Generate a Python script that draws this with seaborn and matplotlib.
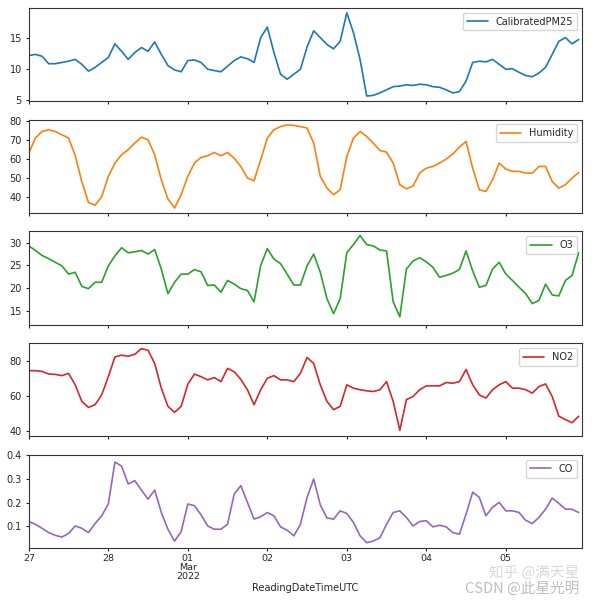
import numpy as np
import pandas as pd
import matplotlib
matplotlib.use("Agg")
import matplotlib.pyplot as plt
import matplotlib.dates as mdates
import matplotlib.ticker as mticker
import seaborn as sns

#%% data (every 2 hours) #####################################################
times = pd.date_range("2022-02-27 00:00", periods=84, freq="2h")

pm25 = [12.1, 12.3, 12.0, 10.8, 10.8, 11.0, 11.2, 11.5, 10.7, 9.6, 10.2, 11.0,
        11.8, 14.0, 12.8, 11.5, 12.6, 13.4, 12.8, 14.3, 12.3, 10.5, 9.8, 9.5,
        11.3, 11.4, 11.0, 9.9, 9.7, 9.5, 10.4, 11.3, 11.9, 11.6, 11.0, 15.0,
        16.7, 12.6, 9.1, 8.3, 9.1, 9.9, 13.5, 16.1, 15.0, 13.9, 13.2, 14.4,
        19.0, 15.8, 11.5, 5.6, 5.7, 6.1, 6.6, 7.1, 7.2, 7.4, 7.3, 7.5,
        7.4, 7.1, 7.0, 6.6, 6.1, 6.3, 8.0, 11.0, 11.2, 11.1, 11.5, 10.7,
        9.9, 10.0, 9.4, 8.9, 8.7, 9.3, 10.2, 12.3, 14.4, 15.0, 14.0, 14.7]

humidity = [63.2, 71.2, 74.7, 75.6, 74.7, 72.9, 71.2, 62.0, 48.0, 37.0, 35.5, 40.0,
            50.8, 57.9, 62.3, 65.0, 68.5, 71.7, 70.3, 62.3, 49.0, 38.8, 34.0, 41.1,
            50.8, 57.9, 60.9, 61.8, 63.5, 61.8, 63.5, 60.5, 56.1, 50.0, 48.5, 59.6,
            71.2, 75.6, 77.3, 78.2, 77.9, 77.3, 76.5, 68.5, 50.8, 44.6, 41.1, 43.7,
            61.4, 71.2, 74.7, 72.0, 68.5, 64.6, 63.7, 57.9, 46.4, 44.2, 45.8, 52.6,
            55.2, 56.1, 57.9, 60.0, 62.7, 66.4, 69.4, 55.2, 43.7, 42.8, 49.0, 57.9,
            54.7, 53.5, 53.5, 52.6, 52.6, 56.1, 56.1, 48.1, 44.6, 46.4, 49.9, 52.9]

o3 = [29.3, 28.3, 27.2, 26.5, 25.7, 24.9, 23.1, 23.5, 20.4, 19.9, 21.3, 21.3,
      24.9, 27.1, 28.9, 27.8, 28.0, 28.3, 27.5, 28.5, 24.2, 18.8, 21.3, 23.1,
      23.1, 24.1, 23.6, 20.6, 20.7, 19.1, 21.7, 20.9, 19.9, 19.5, 17.0, 25.0,
      28.7, 26.4, 25.4, 23.1, 20.7, 20.7, 24.9, 27.5, 23.5, 17.7, 14.4, 17.7,
      27.8, 29.6, 31.6, 29.6, 29.3, 28.4, 28.2, 17.0, 13.7, 24.2, 26.0, 26.7,
      25.8, 24.6, 22.4, 22.8, 23.3, 24.1, 28.2, 23.8, 20.2, 20.6, 24.2, 25.7,
      23.1, 21.7, 20.2, 18.8, 16.6, 17.3, 20.9, 18.5, 18.3, 21.7, 22.8, 27.8]

no2 = [74.4, 74.4, 74.0, 72.5, 72.3, 71.6, 72.9, 66.4, 57.0, 53.6, 55.1, 60.7,
       71.0, 82.2, 83.2, 82.6, 83.7, 86.9, 86.0, 78.5, 64.5, 54.2, 50.8, 54.2,
       66.7, 72.5, 71.0, 69.2, 70.5, 68.2, 75.7, 73.8, 69.5, 63.6, 55.1, 63.6,
       70.1, 71.6, 69.2, 69.2, 68.2, 72.9, 81.9, 78.5, 66.4, 57.0, 52.3, 54.2,
       66.4, 64.5, 63.6, 63.0, 62.6, 63.6, 68.2, 57.0, 40.6, 58.0, 59.8, 63.6,
       65.8, 65.8, 65.8, 67.7, 67.3, 68.2, 75.1, 66.4, 60.7, 58.9, 63.6, 66.4,
       68.2, 64.5, 64.5, 63.6, 61.7, 65.4, 66.9, 59.8, 48.6, 46.7, 44.9, 48.6]

co = [0.120, 0.108, 0.091, 0.073, 0.061, 0.054, 0.069, 0.101, 0.091, 0.073, 0.111, 0.144,
      0.194, 0.372, 0.355, 0.279, 0.293, 0.253, 0.215, 0.253, 0.158, 0.087, 0.037, 0.077,
      0.194, 0.187, 0.148, 0.101, 0.087, 0.087, 0.108, 0.236, 0.272, 0.201, 0.130, 0.140,
      0.158, 0.144, 0.097, 0.083, 0.059, 0.108, 0.222, 0.300, 0.190, 0.135, 0.130, 0.165,
      0.154, 0.116, 0.059, 0.030, 0.037, 0.051, 0.108, 0.158, 0.165, 0.137, 0.101, 0.120,
      0.123, 0.097, 0.104, 0.097, 0.073, 0.066, 0.151, 0.244, 0.222, 0.144, 0.180, 0.201,
      0.165, 0.165, 0.158, 0.125, 0.111, 0.137, 0.172, 0.219, 0.197, 0.172, 0.172, 0.158]

columns = ["CalibratedPM25", "Humidity", "O3", "NO2", "CO"]
series = [pm25, humidity, o3, no2, co]
ystep = [5, 10, 5, 20, 0.1]
ylims = [(4.8, 19.8), (31.5, 81.0), (12.0, 32.5), (37.2, 90.0), (0.007, 0.402)]

df = pd.DataFrame(dict(zip(columns, series)), index=times)
df.index.name = "ReadingDateTimeUTC"

#%% plot ######################################################################
sns.set_style("ticks")
plt.rcParams["font.family"] = ["DejaVu Sans"]
plt.rcParams["xtick.labelsize"] = 6.8
plt.rcParams["ytick.labelsize"] = 7
plt.rcParams["xtick.major.size"] = 2.5
plt.rcParams["ytick.major.size"] = 2.5
plt.rcParams["xtick.major.pad"] = 2
plt.rcParams["ytick.major.pad"] = 2.5

palette = sns.color_palette("tab10", 5)

fig, axs = plt.subplots(5, 1, figsize=(6, 6.01), dpi=100, sharex=True)
fig.subplots_adjust(left=0.048, right=0.97, top=0.987, bottom=0.088, hspace=0.2)

for i, col in enumerate(columns):
    ax = axs[i]
    sns.lineplot(x=df.index, y=df[col], ax=ax, color=palette[i], label=col, linewidth=1.2)
    ax.set_ylabel("")
    ax.set_ylim(*ylims[i])
    ax.yaxis.set_major_locator(mticker.MultipleLocator(ystep[i]))
    ax.legend(loc="upper right", fontsize=7, handlelength=2.2)
    for s in ax.spines.values():
        s.set_color("#333333")
        s.set_linewidth(0.8)

def day_fmt(x, pos=None):
    d = mdates.num2date(x)
    if d.day == 1:
        return d.strftime("%d\n%b\n%Y")
    return d.strftime("%d")

axs[-1].set_xlim(times[0], pd.Timestamp("2022-03-05 23:00"))
axs[-1].xaxis.set_major_locator(mdates.DayLocator())
axs[-1].xaxis.set_major_formatter(mticker.FuncFormatter(day_fmt))
axs[-1].xaxis.set_minor_locator(mticker.NullLocator())
axs[-1].set_xlabel("ReadingDateTimeUTC", fontsize=7, labelpad=2)

fig.canvas.draw()
for t in axs[-1].xaxis.get_major_ticks():
    t.label1.set_linespacing(0.95)

# watermark in the corner
cjk = ["Noto Sans CJK SC", "DejaVu Sans"]
fig.text(0.965, 0.047, "知乎 @满天星", ha="right", va="center", fontsize=10.5,
         color="#d9d9d9", family=cjk)
fig.text(0.965, 0.021, "CSDN @此星光明", ha="right", va="center", fontsize=10.5,
         color="#bdbdbd", family=cjk)

plt.savefig("out.png", dpi=100)
